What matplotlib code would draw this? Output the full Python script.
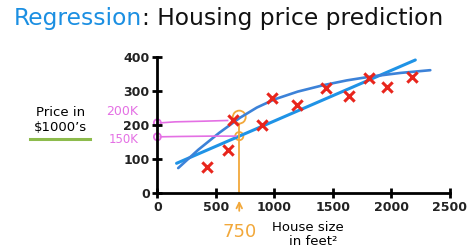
import matplotlib.pyplot as plt
from matplotlib.patches import Ellipse

# --- data ---
house_size = [421, 606, 650, 892, 980, 1192, 1443, 1640, 1805, 1962, 2176]
price = [78, 127, 214, 200, 281, 260, 309, 287, 338, 312, 341]

line_x = [164, 2205]
line_y = [88, 392]

curve_x = [178, 350, 530, 706, 850, 1000, 1200, 1420, 1620, 1820, 2080, 2333]
curve_y = [74, 128, 178, 222, 252, 276, 299, 318, 332, 343, 354, 362]

x_ticks = [0, 500, 1000, 1500, 2000, 2500]
y_ticks = [0, 100, 200, 300, 400]

query_size = 700
pred_line = 168

pink = '#e470e4'
orange = '#f2a83a'
blue_line = '#1f93e6'
blue_curve = '#3c82d8'

fig = plt.figure(figsize=(4.74, 2.49), dpi=100)
ax = fig.add_axes([0.332, 0.224, 0.617, 0.546])

ax.plot(line_x, line_y, color=blue_line, lw=2.2, solid_capstyle='round')
ax.plot(curve_x, curve_y, color=blue_curve, lw=1.9, solid_capstyle='round')
ax.scatter(house_size, price, marker='x', s=55, color='#e8251c', linewidths=2.2, zorder=3)

ax.set_xlim(0, 2500)
ax.set_ylim(0, 400)
ax.set_xticks(x_ticks)
ax.set_yticks(y_ticks)
for s in ['top', 'right']:
    ax.spines[s].set_visible(False)
for s in ['left', 'bottom']:
    ax.spines[s].set_linewidth(2)
ax.tick_params(direction='inout', length=7, width=2, labelsize=9, pad=2)
for lab in ax.get_xticklabels() + ax.get_yticklabels():
    lab.set_fontweight('bold')
    lab.set_color('#222222')

# pink annotations: predictions read back onto the price axis
ax.plot([25, 150, 400, 600], [207, 210, 212, 214], color=pink, lw=1.2, clip_on=False)
ax.plot([25, 200, 450, 670], [166, 167, 168, 168], color=pink, lw=1.2, clip_on=False)
for yv in [207, 166]:
    ax.add_patch(Ellipse((0, yv), 60, 21, fill=False, ec=pink, lw=1.3, clip_on=False))
ax.text(-300, 239, '200K', color=pink, fontsize=9, ha='center', va='center')
ax.text(-285, 159, '150K', color=pink, fontsize=8.5, ha='center', va='center')

# orange annotations at the query size
ax.add_patch(Ellipse((query_size, 224), 110, 38, fill=False, ec=orange, lw=1.3, clip_on=False))
ax.add_patch(Ellipse((query_size, pred_line), 70, 24, fill=False, ec=orange, lw=1.3, clip_on=False))
ax.plot([query_size, query_size], [205, 0], color=orange, lw=1.3, clip_on=False)
ax.annotate('', xy=(query_size, -14), xytext=(query_size, -60),
            arrowprops=dict(arrowstyle='->', color=orange, lw=1.3), annotation_clip=False)
ax.text(query_size, -115, '750', color=orange, fontsize=13, ha='center', va='center')

ax.text(1290, -100, 'House size', fontsize=9.5, ha='center', va='center')
ax.text(1330, -143, 'in feet\u00b2', fontsize=9.5, ha='center', va='center')

fig.text(0.127, 0.52, 'Price in\n$1000\u2019s', fontsize=9.5, ha='center', va='center',
         linespacing=1.2)
fig.add_artist(plt.Line2D([0.063, 0.19], [0.442, 0.442], color='#8dbb4c', lw=2.2))

t1 = fig.text(0.03, 0.88, 'Regression', color='#1b8fe2', fontsize=16.8, va='bottom')
ax.annotate(': Housing price prediction', xy=(1, 0), xycoords=t1, fontsize=16.8,
            va='bottom', ha='left', color='#111111', annotation_clip=False)

fig.savefig('out.png', dpi=100)
